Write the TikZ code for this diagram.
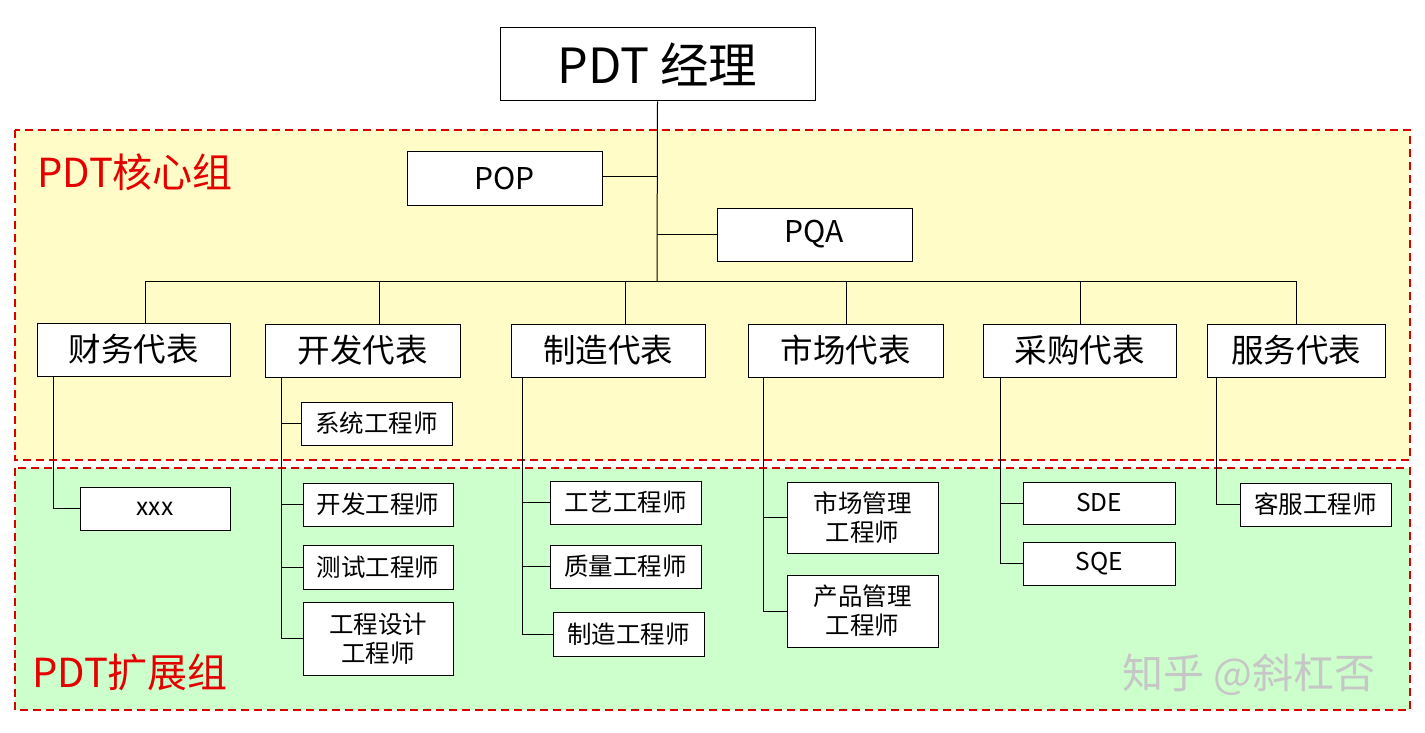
\documentclass[tikz,border=0pt]{standalone}
\usepackage{fontspec}
\setmainfont{Noto Sans CJK SC}
\begin{document}
\begin{tikzpicture}[x=1pt,y=-1pt,
  bx/.style={draw=black,line width=1pt,fill=white,inner sep=0pt,align=center},
  big/.style={bx,font=\fontsize{32.5}{34}\selectfont},
  sm/.style={bx,font=\fontsize{24.5}{29}\selectfont},
  ln/.style={draw=black,line width=1pt},
  band/.style={draw=red!85!black,line width=2.5pt,dash pattern=on 8pt off 5pt},
  lab/.style={text=red!90!black,anchor=west,inner sep=0pt,font=\fontsize{40}{42}\selectfont}]
\useasboundingbox (0,0) rectangle (1425,733);
\fill[white] (0,0) rectangle (1425,733);
\fill[yellow!22] (15,130) rectangle (1410,460);
\fill[green!20] (15,468) rectangle (1410,710);
\path[band] (15,130) rectangle (1410,460);
\path[band] (15,468) rectangle (1410,710);
\node[lab] (l1) at (37,172) {PDT核心组};
\node[lab] (l2) at (32,672) {PDT扩展组};
\node[text=gray!45,anchor=west,inner sep=0pt,font=\fontsize{41}{43}\selectfont] (wm) at (1122,675) {知乎 @斜杠否};

\node[bx,minimum width=315,minimum height=73,font=\fontsize{48.5}{50}\selectfont] (pm) at (657.5,64.5) {PDT 经理};
\node[big,minimum width=195,minimum height=53,font=\fontsize{30}{32}\selectfont] (pop) at (504.5,178.5) {POP};
\node[big,minimum width=195,minimum height=53,font=\fontsize{30}{32}\selectfont] (pqa) at (814.5,234.5) {PQA};
\coordinate (t1) at (657,177);
\coordinate (t2) at (657,234);
\coordinate (tb) at (657,281);
\draw[ln] (pm.south) -- (tb);
\draw[ln] (pop.east|-t1) -- (t1);
\draw[ln] (t2) -- (pqa.west|-t2);

\node[big,minimum width=193,minimum height=53] (cw) at (133.5,349.5) {财务代表};
\node[big,minimum width=195,minimum height=53] (kf) at (362.5,350.5) {开发代表};
\node[big,minimum width=194,minimum height=53] (zz) at (608,350.5) {制造代表};
\node[big,minimum width=195,minimum height=53] (sc) at (845.5,350.5) {市场代表};
\node[big,minimum width=193,minimum height=53] (cg) at (1079.5,350.5) {采购代表};
\node[big,minimum width=178,minimum height=53] (fw) at (1296,350.5) {服务代表};
\foreach \n/\x in {cw/145,kf/379,zz/625,sc/846,cg/1080,fw/1296}{
  \coordinate (b\n) at (\x,281);
  \draw[ln] (b\n) -- (\n.north-|b\n);
}
\draw[ln] (bcw) -- (bfw);

% children
\node[sm,minimum width=150,minimum height=43] (xxx) at (155,508.5) {xxx};
\node[sm,minimum width=151,minimum height=43] (k1) at (376.5,423.5) {系统工程师};
\node[sm,minimum width=150,minimum height=43] (k2) at (378,504.5) {开发工程师};
\node[sm,minimum width=150,minimum height=44] (k3) at (378,567) {测试工程师};
\node[sm,minimum width=150,minimum height=73] (k4) at (378,638.5) {工程设计\\工程师};
\node[sm,minimum width=151,minimum height=43] (z1) at (625.5,502.5) {工艺工程师};
\node[sm,minimum width=151,minimum height=43] (z2) at (625.5,566.5) {质量工程师};
\node[sm,minimum width=151,minimum height=44] (z3) at (628.5,634) {制造工程师};
\node[sm,minimum width=151,minimum height=71] (s1) at (862.5,517.5) {市场管理\\工程师};
\node[sm,minimum width=151,minimum height=72] (s2) at (862.5,611) {产品管理\\工程师};
\node[sm,minimum width=152,minimum height=42] (c1) at (1099,503) {SDE};
\node[sm,minimum width=152,minimum height=43] (c2) at (1099,563.5) {SQE};
\node[sm,minimum width=151,minimum height=43] (f1) at (1315.5,504.5) {客服工程师};

\draw[ln] (cw.south-|53,0) |- (xxx.west);
\draw[ln] (kf.south-|281,0) |- (k4.west);
\foreach \c in {k1,k2,k3} \draw[ln] (281,0|-\c.west) -- (\c.west);
\draw[ln] (zz.south-|522,0) |- (z3.west);
\foreach \c in {z1,z2} \draw[ln] (522,0|-\c.west) -- (\c.west);
\draw[ln] (sc.south-|763,0) |- (s2.west);
\draw[ln] (763,0|-s1.west) -- (s1.west);
\draw[ln] (cg.south-|1000,0) |- (c2.west);
\draw[ln] (1000,0|-c1.west) -- (c1.west);
\draw[ln] (fw.south-|1216,0) |- (f1.west);
\end{tikzpicture}
\end{document}
